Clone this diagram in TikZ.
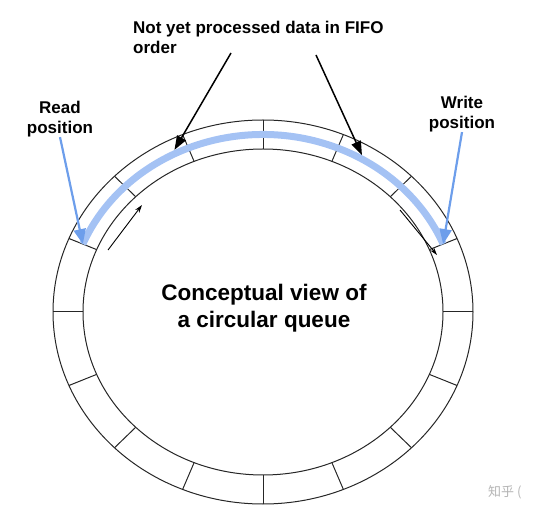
\documentclass[tikz,border=0pt]{standalone}
\usepackage{fontspec}
\setmainfont{Liberation Sans}
\newfontfamily\cjk{Noto Sans CJK SC}
\usetikzlibrary{arrows.meta, positioning, calc}
\definecolor{queueblue}{HTML}{A4C2F4}
\definecolor{pointerblue}{HTML}{6D9EEB}
\definecolor{markgray}{HTML}{B4B4B4}

\begin{document}
\begin{tikzpicture}[
    x=1pt, y=1pt,
    lbl/.style={font=\bfseries\fontsize{17}{20}\selectfont, align=center, inner sep=0pt},
    ring/.style={draw=black!85, line width=1pt},
    fifo/.style={-{Triangle[length=14pt, width=10pt]}, line width=1.5pt},
    ptr/.style={-{Triangle[length=15pt, width=12pt]}, draw=pointerblue, fill=pointerblue, line width=2.2pt},
    dir/.style={-{Stealth[length=8pt, width=5pt]}, line width=0.9pt}
]
    \useasboundingbox (0,0) rectangle (541,517);
    \coordinate (c) at (263,205);
    % ring with 16 slots
    \draw[ring] (c) ellipse [x radius=210, y radius=192];
    \draw[ring] (c) ellipse [x radius=180, y radius=163];
    \foreach \a in {0,22.5,...,337.5}
        \draw[ring] ($(c)+(\a:180 and 163)$) -- ($(c)+(\a:210 and 192)$);
    % filled part of the queue
    \draw[queueblue, line width=7pt] ($(c)+(157.5:195 and 177.5)$) coordinate (rd)
        arc[start angle=157.5, end angle=22.5, x radius=195, y radius=177.5] coordinate (wr);
    \node[lbl, font=\bfseries\fontsize{22.5}{27}\selectfont] (center) at (264,209) {Conceptual view of\\a circular queue};
    \node[lbl] (read) at (60,398) {Read\\position};
    \node[lbl] (write) at (462,403) {Write\\position};
    \node[lbl, align=left, anchor=north west] (fifo) at (133,496) {Not yet processed data in FIFO\\order};
    \draw[ptr] (read.south) -- (rd);
    \draw[ptr] (write.south) -- (wr);
    \coordinate (f1) at (231,464);
    \coordinate (f2) at (316,462);
    \coordinate (t1) at ($(c)+(117:195 and 182)$);
    \coordinate (t2) at ($(c)+(59.5:195 and 182)$);
    \draw[fifo] (f1) -- (t1);
    \draw[fifo] (f2) -- (t2);
    % direction of travel
    \draw[dir] (108,267) -- (142,312);
    \draw[dir] (400,307) -- (437,262);
    \node[text=markgray, font=\cjk\fontsize{13}{13}\selectfont, anchor=west, inner sep=0pt] (mark) at (488,25) {知乎 (};
\end{tikzpicture}
\end{document}
